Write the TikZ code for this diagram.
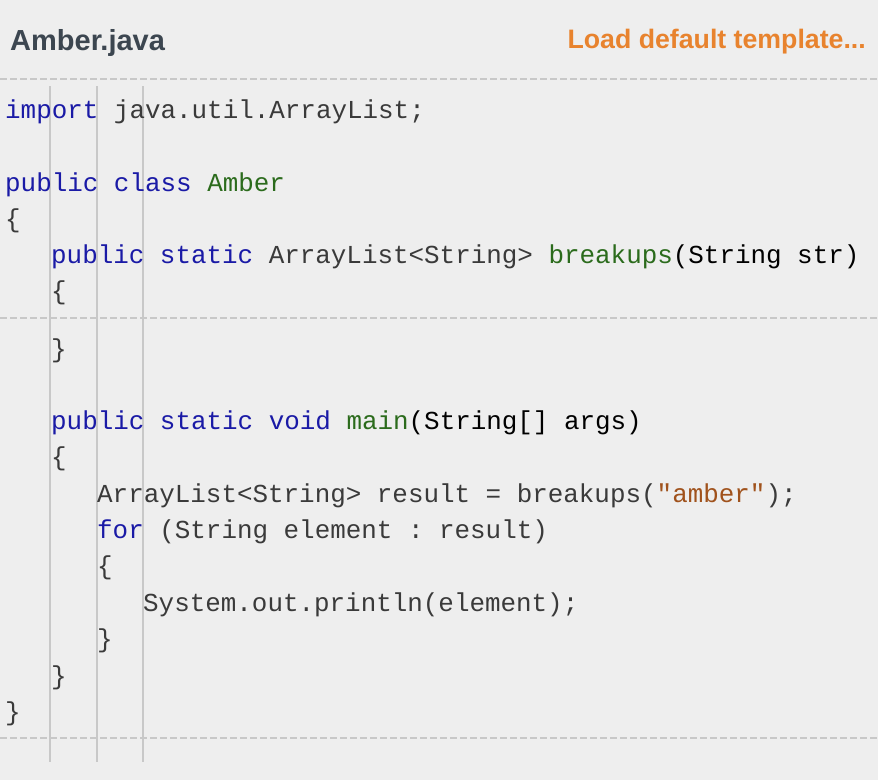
\documentclass[tikz,border=0pt]{standalone}
\usepackage{fontspec}
\setmainfont{Liberation Sans}
\setmonofont{Liberation Mono}
\definecolor{bg}{HTML}{EEEEEE}
\definecolor{kw}{HTML}{1A1AA6}
\definecolor{nm}{HTML}{2B6B1C}
\definecolor{st}{HTML}{A0521C}
\definecolor{pl}{HTML}{3A3A3A}
\definecolor{hd}{HTML}{3C4650}
\definecolor{org}{HTML}{E8832E}
\definecolor{dsh}{HTML}{C8C8C8}
\newcommand{\K}[1]{\textcolor{kw}{#1}}
\newcommand{\N}[1]{\textcolor{nm}{#1}}
\newcommand{\Sq}[1]{\textcolor{st}{#1}}
\begin{document}
\begin{tikzpicture}[x=1pt,y=-1pt,
  code/.style={anchor=base west,inner sep=0pt,font=\fontsize{25.9}{30}\ttfamily,text=pl},
  sep/.style={draw=dsh,line width=2.5pt,dash pattern=on 7pt off 3pt},
  guide/.style={draw=dsh,line width=1.2pt}]
\fill[bg] (0,0) rectangle (878,780);
\useasboundingbox (0,0) rectangle (878,780);
\node[anchor=base west,inner sep=0pt,font=\fontsize{29}{32}\bfseries\selectfont,text=hd] (title) at (10,50) {Amber.java};
\node[anchor=base east,inner sep=0pt,font=\fontsize{26.7}{30}\bfseries\selectfont,text=org] (load) at (866,48) {Load default template...};
\draw[sep] (0,79) -- (878,79);
\draw[sep] (0,318) -- (878,318);
\draw[sep] (0,738) -- (878,738);
\foreach \gx in {50,97,143} \draw[guide] (\gx,86) -- (\gx,762);
\node[code] (l1) at (5,118) {\K{import} java.util.ArrayList;};
\node[code] (l2) at (5,191) {\K{public} \K{class} \N{Amber}};
\node[code] (l3) at (5,227) {\{};
\node[code] (l4) at (51,263) {\K{public} \K{static} ArrayList<String> \N{breakups}\textcolor{black}{(String str)}};
\node[code] (l5) at (51,299) {\{};
\node[code] (l6) at (51,357) {\}};
\node[code] (l7) at (51,429) {\K{public} \K{static} \K{void} \N{main}\textcolor{black}{(String[] args)}};
\node[code] (l8) at (51,465) {\{};
\node[code] (l9) at (97,502) {ArrayList<String> result = breakups(\Sq{"amber"});};
\node[code] (l10) at (97,538) {\K{for} (String element : result)};
\node[code] (l11) at (97,574) {\{};
\node[code] (l12) at (143,611) {System.out.println(element);};
\node[code] (l13) at (97,647) {\}};
\node[code] (l14) at (51,684) {\}};
\node[code] (l15) at (5,720) {\}};
\end{tikzpicture}
\end{document}
